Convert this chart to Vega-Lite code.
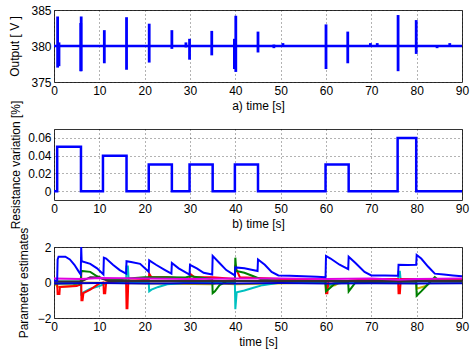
{
  "$schema": "https://vega.github.io/schema/vega-lite/v6.json",
  "background": "white",
  "padding": {"left": 8, "top": 3, "right": 8, "bottom": 3},
  "bounds": "flush",
  "spacing": 47,
  "config": {
    "font": "Liberation Sans",
    "view": {"stroke": "#333333", "strokeWidth": 1},
    "axis": {
      "labelFont": "Liberation Sans", "labelFontSize": 12, "labelColor": "#000000",
      "titleFont": "Liberation Sans", "titleFontSize": 12, "titleFontWeight": "normal", "titleColor": "#000000",
      "ticks": false, "domain": false, "grid": true, "gridColor": "#000000", "gridDash": [1, 3], "gridOpacity": 0.6,
      "labelPadding": 3, "titlePadding": 4, "labelFlush": false, "labelOverlap": false, "format": "~r"
    }
  },
  "vconcat": [
    {
      "width": 408, "height": 72,
      "encoding": {
        "x": {"field": "t", "type": "quantitative", "scale": {"domain": [0, 90], "nice": false}, "axis": {"values": [0,10,20,30,40,50,60,70,80,90], "title": "a) time [s]"}},
        "y": {"field": "v", "type": "quantitative", "scale": {"domain": [375, 385], "nice": false}, "axis": {"values": [375, 380, 385], "title": "Output [ V ]", "titlePadding": 9}}
      },
      "layer": [
        {
          "data": {"values": [{"t": 0, "v": 380}, {"t": 90, "v": 380}]},
          "mark": {"type": "line", "color": "#0000ff", "strokeWidth": 2.5, "clip": true}
        },
        {
          "data": {"values": [
            {"t": 0.8, "v": 377.0, "v2": 384.1},
            {"t": 1.1, "v": 377.2, "v2": 380.5},
            {"t": 5.9, "v": 376.5, "v2": 383.2},
            {"t": 6.0, "v": 376.5, "v2": 384.1},
            {"t": 11.1, "v": 377.6, "v2": 382.2},
            {"t": 16.0, "v": 376.7, "v2": 384.0},
            {"t": 21.0, "v": 377.7, "v2": 383.1},
            {"t": 26.0, "v": 379.6, "v2": 382.2},
            {"t": 29.1, "v": 379.8, "v2": 380.5},
            {"t": 29.9, "v": 378.1, "v2": 381.0},
            {"t": 34.8, "v": 378.7, "v2": 382.1},
            {"t": 39.8, "v": 376.8, "v2": 381.0},
            {"t": 40.1, "v": 376.4, "v2": 384.2},
            {"t": 45.0, "v": 379.1, "v2": 382.0},
            {"t": 48.5, "v": 379.7, "v2": 380.2},
            {"t": 50.5, "v": 379.9, "v2": 380.4},
            {"t": 60.0, "v": 376.8, "v2": 383.0},
            {"t": 64.8, "v": 377.6, "v2": 382.0},
            {"t": 69.8, "v": 379.9, "v2": 380.4},
            {"t": 71.3, "v": 379.9, "v2": 380.4},
            {"t": 75.9, "v": 376.5, "v2": 384.3},
            {"t": 79.9, "v": 378.9, "v2": 383.6},
            {"t": 84.5, "v": 379.7, "v2": 380.1},
            {"t": 87.3, "v": 379.9, "v2": 380.4}
          ]},
          "mark": {"type": "rule", "color": "#0000ff", "strokeWidth": 2.8, "clip": true},
          "encoding": {"y2": {"field": "v2"}}
        }
      ]
    },
    {
      "width": 408, "height": 71,
      "data": {"values": [
        {"t": 0, "v": 0}, {"t": 0.7, "v": 0.05}, {"t": 5.95, "v": 0}, {"t": 10.8, "v": 0.04}, {"t": 16.0, "v": 0},
        {"t": 20.9, "v": 0.03}, {"t": 26.0, "v": 0}, {"t": 29.9, "v": 0.03}, {"t": 35.0, "v": 0},
        {"t": 39.9, "v": 0.03}, {"t": 45.0, "v": 0}, {"t": 59.9, "v": 0.03}, {"t": 65.0, "v": 0},
        {"t": 75.8, "v": 0.06}, {"t": 79.9, "v": 0}, {"t": 90, "v": 0}
      ]},
      "mark": {"type": "line", "interpolate": "step-after", "color": "#0000ff", "strokeWidth": 2.5, "clip": true},
      "encoding": {
        "x": {"field": "t", "type": "quantitative", "scale": {"domain": [0, 90], "nice": false}, "axis": {"values": [0,10,20,30,40,50,60,70,80,90], "title": "b) time [s]"}},
        "y": {"field": "v", "type": "quantitative", "scale": {"domain": [-0.01, 0.07], "nice": false}, "axis": {"values": [0, 0.02, 0.04, 0.06], "title": "Resistance variation [%]", "titlePadding": 5}}
      }
    },
    {
      "width": 408, "height": 71,
      "data": {"values": [
        {"s": "a_y", "t": 0, "v": 0}, {"s": "a_y", "t": 0.8, "v": -0.25}, {"s": "a_y", "t": 4, "v": -0.2}, {"s": "a_y", "t": 5.5, "v": 0},
        {"s": "a_y", "t": 35, "v": -0.1}, {"s": "a_y", "t": 36, "v": -0.05}, {"s": "a_y", "t": 40, "v": -0.1}, {"s": "a_y", "t": 59.9, "v": 0},
        {"s": "a_y", "t": 60, "v": -0.2}, {"s": "a_y", "t": 62, "v": -0.15}, {"s": "a_y", "t": 63, "v": 0}, {"s": "a_y", "t": 79.9, "v": 0},
        {"s": "a_y", "t": 80, "v": -0.35}, {"s": "a_y", "t": 82, "v": -0.2}, {"s": "a_y", "t": 83, "v": 0}, {"s": "a_y", "t": 90, "v": 0},

        {"s": "b_c", "t": 0, "v": 0.05}, {"s": "b_c", "t": 5.9, "v": 0.05}, {"s": "b_c", "t": 6.0, "v": -0.65}, {"s": "b_c", "t": 6.5, "v": -0.55},
        {"s": "b_c", "t": 8, "v": -0.35}, {"s": "b_c", "t": 10, "v": -0.2}, {"s": "b_c", "t": 12, "v": 0}, {"s": "b_c", "t": 15.9, "v": 0},
        {"s": "b_c", "t": 16, "v": 0.9}, {"s": "b_c", "t": 16.3, "v": 0.9}, {"s": "b_c", "t": 16.5, "v": 0}, {"s": "b_c", "t": 20.9, "v": 0},
        {"s": "b_c", "t": 21, "v": -0.5}, {"s": "b_c", "t": 21.5, "v": -0.4}, {"s": "b_c", "t": 23, "v": -0.25}, {"s": "b_c", "t": 25, "v": -0.1},
        {"s": "b_c", "t": 30, "v": 0}, {"s": "b_c", "t": 39.9, "v": 0}, {"s": "b_c", "t": 40, "v": -1.5}, {"s": "b_c", "t": 40.3, "v": -0.55},
        {"s": "b_c", "t": 42, "v": -0.45}, {"s": "b_c", "t": 44, "v": -0.3}, {"s": "b_c", "t": 46, "v": -0.15}, {"s": "b_c", "t": 50, "v": 0},
        {"s": "b_c", "t": 59.9, "v": 0}, {"s": "b_c", "t": 60, "v": -0.3}, {"s": "b_c", "t": 61, "v": -0.1}, {"s": "b_c", "t": 62, "v": 0},
        {"s": "b_c", "t": 75.9, "v": 0}, {"s": "b_c", "t": 76, "v": 0.6}, {"s": "b_c", "t": 76.3, "v": 0.6}, {"s": "b_c", "t": 76.5, "v": 0.05},
        {"s": "b_c", "t": 90, "v": 0.05},

        {"s": "c_r", "t": 0, "v": -0.05}, {"s": "c_r", "t": 0.7, "v": -0.05}, {"s": "c_r", "t": 0.8, "v": -0.65}, {"s": "c_r", "t": 1.2, "v": -0.65},
        {"s": "c_r", "t": 1.3, "v": -0.25}, {"s": "c_r", "t": 5, "v": -0.2}, {"s": "c_r", "t": 5.9, "v": -0.1}, {"s": "c_r", "t": 6.0, "v": 0.7},
        {"s": "c_r", "t": 6.05, "v": -1.0}, {"s": "c_r", "t": 6.3, "v": -1.0}, {"s": "c_r", "t": 6.5, "v": -0.6}, {"s": "c_r", "t": 8, "v": -0.4},
        {"s": "c_r", "t": 10, "v": -0.05}, {"s": "c_r", "t": 10.9, "v": 0}, {"s": "c_r", "t": 11, "v": -0.6}, {"s": "c_r", "t": 11.3, "v": -0.6},
        {"s": "c_r", "t": 11.5, "v": 0}, {"s": "c_r", "t": 15, "v": 0.1}, {"s": "c_r", "t": 15.9, "v": 0.1}, {"s": "c_r", "t": 16, "v": -1.45},
        {"s": "c_r", "t": 16.2, "v": -1.45}, {"s": "c_r", "t": 16.4, "v": 0.1}, {"s": "c_r", "t": 20.9, "v": 0.15}, {"s": "c_r", "t": 21, "v": 0.5},
        {"s": "c_r", "t": 21.5, "v": 0.3}, {"s": "c_r", "t": 25, "v": 0.3}, {"s": "c_r", "t": 29.9, "v": 0.2}, {"s": "c_r", "t": 30, "v": 0.5},
        {"s": "c_r", "t": 31, "v": 0.3}, {"s": "c_r", "t": 35, "v": 0.3}, {"s": "c_r", "t": 39.9, "v": 0.2}, {"s": "c_r", "t": 40, "v": 1.0},
        {"s": "c_r", "t": 40.3, "v": 0.7}, {"s": "c_r", "t": 41, "v": 0.3}, {"s": "c_r", "t": 45, "v": 0.25}, {"s": "c_r", "t": 50, "v": 0.2},
        {"s": "c_r", "t": 59.9, "v": 0.1}, {"s": "c_r", "t": 60, "v": -0.6}, {"s": "c_r", "t": 60.3, "v": -0.6}, {"s": "c_r", "t": 60.5, "v": 0.05},
        {"s": "c_r", "t": 65, "v": 0.1}, {"s": "c_r", "t": 70, "v": 0.2}, {"s": "c_r", "t": 75.9, "v": 0.2}, {"s": "c_r", "t": 76, "v": -0.6},
        {"s": "c_r", "t": 76.3, "v": -0.6}, {"s": "c_r", "t": 76.5, "v": 0.2}, {"s": "c_r", "t": 80, "v": 0.2}, {"s": "c_r", "t": 85, "v": 0.2},
        {"s": "c_r", "t": 90, "v": 0.2},

        {"s": "d_g", "t": 0, "v": -0.05}, {"s": "d_g", "t": 5.9, "v": -0.05}, {"s": "d_g", "t": 6.0, "v": 0.65}, {"s": "d_g", "t": 8, "v": 0.6},
        {"s": "d_g", "t": 9.5, "v": 0.35}, {"s": "d_g", "t": 11, "v": 0.2}, {"s": "d_g", "t": 15, "v": 0.2}, {"s": "d_g", "t": 20, "v": 0.3},
        {"s": "d_g", "t": 25, "v": 0.3}, {"s": "d_g", "t": 29, "v": 0.28}, {"s": "d_g", "t": 30, "v": 0.35}, {"s": "d_g", "t": 34.9, "v": 0.2},
        {"s": "d_g", "t": 35, "v": -0.6}, {"s": "d_g", "t": 35.5, "v": -0.5}, {"s": "d_g", "t": 36.5, "v": -0.15}, {"s": "d_g", "t": 38, "v": 0.05},
        {"s": "d_g", "t": 39.9, "v": 0.05}, {"s": "d_g", "t": 40, "v": 1.4}, {"s": "d_g", "t": 40.2, "v": 0.65}, {"s": "d_g", "t": 42, "v": 0.55},
        {"s": "d_g", "t": 44, "v": 0.35}, {"s": "d_g", "t": 46, "v": 0.15}, {"s": "d_g", "t": 50, "v": 0.1}, {"s": "d_g", "t": 59.9, "v": 0.05},
        {"s": "d_g", "t": 60, "v": -0.5}, {"s": "d_g", "t": 60.5, "v": -0.4}, {"s": "d_g", "t": 62, "v": -0.05}, {"s": "d_g", "t": 64.9, "v": 0},
        {"s": "d_g", "t": 65, "v": -0.5}, {"s": "d_g", "t": 65.6, "v": -0.3}, {"s": "d_g", "t": 66.5, "v": 0}, {"s": "d_g", "t": 75, "v": 0.05},
        {"s": "d_g", "t": 79.9, "v": 0.05}, {"s": "d_g", "t": 80, "v": -0.75}, {"s": "d_g", "t": 81, "v": -0.5}, {"s": "d_g", "t": 82.5, "v": -0.1},
        {"s": "d_g", "t": 84, "v": 0.3}, {"s": "d_g", "t": 85, "v": 0.1}, {"s": "d_g", "t": 90, "v": 0.1},

        {"s": "e_k", "t": 0, "v": 0.05}, {"s": "e_k", "t": 6, "v": 0.05}, {"s": "e_k", "t": 8, "v": 0.3}, {"s": "e_k", "t": 10, "v": 0.28},
        {"s": "e_k", "t": 12, "v": 0.08}, {"s": "e_k", "t": 40, "v": 0.08}, {"s": "e_k", "t": 90, "v": 0.08},

        {"s": "f_m", "t": 0, "v": 0.22}, {"s": "f_m", "t": 6, "v": 0.2}, {"s": "f_m", "t": 10, "v": 0.25}, {"s": "f_m", "t": 20, "v": 0.22},
        {"s": "f_m", "t": 30, "v": 0.2}, {"s": "f_m", "t": 40, "v": 0.22}, {"s": "f_m", "t": 50, "v": 0.22}, {"s": "f_m", "t": 60, "v": 0.2},
        {"s": "f_m", "t": 70, "v": 0.22}, {"s": "f_m", "t": 76, "v": 0.15}, {"s": "f_m", "t": 80, "v": 0.2}, {"s": "f_m", "t": 90, "v": 0.22},

        {"s": "g_b2", "t": 0, "v": -0.05}, {"s": "g_b2", "t": 10, "v": -0.03}, {"s": "g_b2", "t": 20, "v": -0.06}, {"s": "g_b2", "t": 30, "v": -0.04},
        {"s": "g_b2", "t": 40, "v": -0.05}, {"s": "g_b2", "t": 50, "v": -0.03}, {"s": "g_b2", "t": 60, "v": -0.06}, {"s": "g_b2", "t": 70, "v": -0.04},
        {"s": "g_b2", "t": 80, "v": -0.05}, {"s": "g_b2", "t": 90, "v": -0.04},

        {"s": "h_b1", "t": 0, "v": 0.1}, {"s": "h_b1", "t": 0.7, "v": 0.1}, {"s": "h_b1", "t": 0.8, "v": 1.3}, {"s": "h_b1", "t": 1.0, "v": 1.45},
        {"s": "h_b1", "t": 2.5, "v": 1.45}, {"s": "h_b1", "t": 3.5, "v": 1.3}, {"s": "h_b1", "t": 4.5, "v": 1.0}, {"s": "h_b1", "t": 5.5, "v": 0.6},
        {"s": "h_b1", "t": 5.9, "v": 0.45}, {"s": "h_b1", "t": 6.0, "v": 2.0}, {"s": "h_b1", "t": 6.1, "v": 1.2}, {"s": "h_b1", "t": 8, "v": 1.05},
        {"s": "h_b1", "t": 9.5, "v": 0.8}, {"s": "h_b1", "t": 10.9, "v": 0.45}, {"s": "h_b1", "t": 11.0, "v": 1.4}, {"s": "h_b1", "t": 11.5, "v": 1.35},
        {"s": "h_b1", "t": 13, "v": 1.0}, {"s": "h_b1", "t": 14.5, "v": 0.7}, {"s": "h_b1", "t": 15.9, "v": 0.5}, {"s": "h_b1", "t": 16.0, "v": 1.2},
        {"s": "h_b1", "t": 17, "v": 1.15}, {"s": "h_b1", "t": 19, "v": 1.05}, {"s": "h_b1", "t": 20.9, "v": 0.6}, {"s": "h_b1", "t": 21.0, "v": 1.25},
        {"s": "h_b1", "t": 22.5, "v": 1.0}, {"s": "h_b1", "t": 24.5, "v": 0.7}, {"s": "h_b1", "t": 25.9, "v": 0.5}, {"s": "h_b1", "t": 26.0, "v": 1.1},
        {"s": "h_b1", "t": 27.5, "v": 0.8}, {"s": "h_b1", "t": 29.9, "v": 0.45}, {"s": "h_b1", "t": 30.0, "v": 1.0}, {"s": "h_b1", "t": 31.5, "v": 0.8},
        {"s": "h_b1", "t": 33, "v": 0.55}, {"s": "h_b1", "t": 34.9, "v": 0.45}, {"s": "h_b1", "t": 35.0, "v": 1.5}, {"s": "h_b1", "t": 36.5, "v": 1.1},
        {"s": "h_b1", "t": 38, "v": 0.7}, {"s": "h_b1", "t": 39.9, "v": 0.4}, {"s": "h_b1", "t": 40.0, "v": 0.85}, {"s": "h_b1", "t": 42, "v": 0.8},
        {"s": "h_b1", "t": 44.9, "v": 0.65}, {"s": "h_b1", "t": 45.0, "v": 1.3}, {"s": "h_b1", "t": 46.5, "v": 1.0}, {"s": "h_b1", "t": 48, "v": 0.6},
        {"s": "h_b1", "t": 49.5, "v": 0.4}, {"s": "h_b1", "t": 52, "v": 0.38}, {"s": "h_b1", "t": 55, "v": 0.35}, {"s": "h_b1", "t": 58, "v": 0.33},
        {"s": "h_b1", "t": 59.9, "v": 0.3}, {"s": "h_b1", "t": 60.0, "v": 1.5}, {"s": "h_b1", "t": 61, "v": 1.35}, {"s": "h_b1", "t": 63, "v": 1.0},
        {"s": "h_b1", "t": 64.9, "v": 0.75}, {"s": "h_b1", "t": 65.0, "v": 1.45}, {"s": "h_b1", "t": 66.5, "v": 1.1}, {"s": "h_b1", "t": 68.5, "v": 0.6},
        {"s": "h_b1", "t": 70, "v": 0.4}, {"s": "h_b1", "t": 73, "v": 0.4}, {"s": "h_b1", "t": 75.9, "v": 0.38}, {"s": "h_b1", "t": 76.0, "v": 1.0},
        {"s": "h_b1", "t": 78, "v": 0.98}, {"s": "h_b1", "t": 79.9, "v": 1.0}, {"s": "h_b1", "t": 80.0, "v": 1.55}, {"s": "h_b1", "t": 81, "v": 1.35},
        {"s": "h_b1", "t": 82.5, "v": 0.9}, {"s": "h_b1", "t": 84, "v": 0.5}, {"s": "h_b1", "t": 86, "v": 0.45}, {"s": "h_b1", "t": 88, "v": 0.4},
        {"s": "h_b1", "t": 90, "v": 0.35}
      ]},
      "mark": {"type": "line", "strokeWidth": 2, "clip": true},
      "encoding": {
        "x": {"field": "t", "type": "quantitative", "scale": {"domain": [0, 90], "nice": false}, "axis": {"values": [0,10,20,30,40,50,60,70,80,90], "title": "time [s]"}},
        "y": {"field": "v", "type": "quantitative", "scale": {"domain": [-2, 2], "nice": false}, "axis": {"values": [-2, 0, 2], "title": "Parameter estimates", "titlePadding": 7}},
        "color": {"field": "s", "type": "nominal", "legend": null,
          "scale": {"domain": ["a_y", "b_c", "c_r", "d_g", "e_k", "f_m", "g_b2", "h_b1"],
                    "range": ["#c8b400", "#00c0c0", "#ff0000", "#008000", "#303030", "#e000e0", "#0000cc", "#0000ff"]}}
      }
    }
  ]
}
